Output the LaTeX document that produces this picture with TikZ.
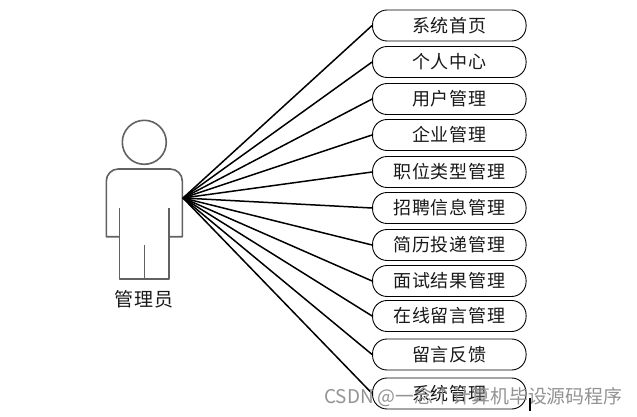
\documentclass[tikz,border=0pt]{standalone}
\usepackage{fontspec}
\newfontfamily\cjk[LetterSpace=4]{Noto Sans CJK SC}
\newfontfamily\cjkmark{Noto Sans CJK SC}
\begin{document}
\begin{tikzpicture}[x=1pt,y=-1pt,
  menubox/.style={draw=black,line width=0.9pt,rounded corners=14.5pt,minimum width=153.5pt,minimum height=31pt,inner sep=0pt,font=\cjk\fontsize{18}{18}\selectfont,text=black!90},
  link/.style={draw=black,line width=1.5pt},
  figline/.style={draw=black!62,line width=1.6pt,line join=round},
  wmark/.style={gray!85,font=\cjkmark\fontsize{18.9}{20}\selectfont}]
\useasboundingbox (0,0) rectangle (637,417);
\fill[white] (0,0) rectangle (637,417);
% actor
\node[figline,circle,minimum size=44pt,inner sep=0pt] (head) at (144.3,142.3) {};
\draw[figline,rounded corners=12pt] (119.3,236.7) [sharp corners] -- (106.3,236.7) [rounded corners=12pt] -- (106.3,169) -- (182.3,169) [sharp corners] -- (182.3,236.7) -- (169,236.7);
\draw[figline] (119.3,208) -- (119.3,279) -- (169,279) -- (169,208);
\draw[figline] (144.3,245) -- (144.3,279);
\coordinate (actor) at (183,198);
\node[font=\cjk\fontsize{19}{20}\selectfont,text=black!90] (actorlabel) at (144,299.5) {管理员};
% menu items
\foreach \n/\y/\t in {a/25.5/系统首页,b/62/个人中心,c/99/用户管理,d/135/企业管理,e/172/职位类型管理,f/208/招聘信息管理,g/245/简历投递管理,h/281/面试结果管理,i/316/在线留言管理,j/354.5/留言反馈,k/393.5/系统管理}{
  \node[menubox] (\n) at (449.3,\y) {\t};
  \draw[link] (actor) -- (\n.west);
}
% watermark
\node[wmark,anchor=west,inner sep=0pt] (wm) at (324,397.5) {CSDN @一念↑计算机毕设源码程序};
\coordinate (c1) at (530,398);
\coordinate (c2) at (530,411);
\draw[black,line width=1.2pt] (c1) -- (c2);
\end{tikzpicture}
\end{document}
